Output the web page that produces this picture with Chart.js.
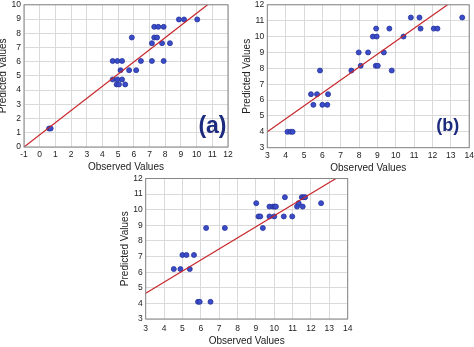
<!DOCTYPE html>
<html>
<head>
<meta charset="utf-8">
<script src="https://cdn.jsdelivr.net/npm/chart.js@4"></script>
<style>
html, body { margin: 0; padding: 0; background: #fff; }
#wrap { position: relative; width: 474px; height: 347px; overflow: hidden; }
canvas { position: absolute; }
</style>
</head>
<body>
<div id="wrap">
  <canvas id="chartA" width="239" height="175" style="left:-2px;top:0px;width:239px;height:175px"></canvas>
  <canvas id="chartB" width="234" height="175" style="left:240px;top:0px;width:234px;height:175px"></canvas>
  <canvas id="chartC" width="240" height="177" style="left:115px;top:170px;width:240px;height:177px"></canvas>
</div>
<script>
// panel (a)
const obsA  = [0.6, 0.7, 4.65, 4.95, 5.25, 6.45, 7.15, 7.9, 5.15, 5.7, 6.15, 4.65, 4.95, 5.25, 4.9, 5.05, 5.45,
               5.87, 7.3, 7.48, 7.15, 7.8, 8.3, 7.3, 7.56, 7.9, 8.87, 9.2, 10.04];
const predA = [1.3, 1.3, 6.05, 6.05, 6.05, 6.05, 6.05, 6.05, 5.4, 5.4, 5.4, 4.75, 4.75, 4.75, 4.4, 4.4, 4.4,
               7.7, 7.7, 7.7, 7.3, 7.3, 7.3, 8.45, 8.45, 8.45, 8.97, 8.97, 8.97];
const fitXA = [-1, 10.7];
const fitYA = [0, 10];

// panel (b)
const obsB  = [4.1, 4.27, 4.38, 5.38, 5.71, 6.31, 5.51, 6.0, 6.27, 5.87, 7.58, 9.78, 8.09, 8.91, 9.02,
               7.98, 8.49, 9.35, 8.75, 8.96, 10.42, 8.93, 9.65, 11.35, 12.07, 12.27, 10.82, 11.29, 13.62];
const predB = [4.0, 4.0, 4.0, 6.37, 6.37, 6.37, 5.7, 5.7, 5.7, 7.86, 7.86, 7.86, 8.16, 8.16, 8.16,
               9.0, 9.0, 9.0, 10.0, 10.0, 10.0, 10.5, 10.5, 10.5, 10.5, 10.5, 11.2, 11.2, 11.2];
const fitXB = [3, 12.82];
const fitYB = [4, 12];

// panel (c)
const obsC  = [4.53, 4.89, 5.4, 5.0, 5.22, 5.63, 5.85, 5.94, 6.53, 6.29, 7.31, 9.02, 9.14, 9.24, 9.38,
               9.74, 9.93, 10.02, 10.09, 9.74, 10.0, 10.58, 10.52, 10.98, 11.24, 11.33, 11.5, 11.6, 11.68, 11.55, 12.55];
const predC = [6.2, 6.2, 6.2, 7.1, 7.1, 7.1, 4.1, 4.1, 4.1, 8.83, 8.83, 10.42, 9.57, 9.57, 8.83,
               10.2, 10.2, 10.2, 10.2, 9.57, 9.57, 10.8, 9.57, 9.57, 10.2, 10.42, 10.8, 10.8, 10.8, 10.2, 10.42];
const fitXC = [3, 13.36];
const fitYC = [4.65, 12];

const FONT = '"Liberation Sans", Arial, sans-serif';

// frame round the plot area + the (a)/(b) tag
const panelTag = {
    id: 'panelTag',
    afterDraw(chart, args, opts) {
        const c = chart.ctx;
        const a = chart.chartArea;
        c.save();
        c.strokeStyle = '#858585';
        c.lineWidth = 1;
        c.strokeRect(a.left, a.top, a.right - a.left, a.bottom - a.top);
        if (opts.text) {
            c.font = 'bold ' + opts.size + 'px ' + FONT;
            c.fillStyle = '#1d2b7e';
            c.textAlign = 'right';
            c.textBaseline = 'middle';
            c.fillText(opts.text, a.right - opts.dx, a.bottom - opts.dy);
        }
        c.restore();
    }
};

function createScatterPanel(canvasId, obs, pred, fitX, fitY, xMin, xMax, yMin, yMax, box, tag) {
    const ctx = document.getElementById(canvasId).getContext('2d');
    const points = obs.map((x, i) => ({ x: x, y: pred[i] }));
    const fit = fitX.map((x, i) => ({ x: x, y: fitY[i] }));

    new Chart(ctx, {
        type: 'scatter',
        data: {
            datasets: [
                {
                    data: fit,
                    showLine: true,
                    borderColor: '#c8262b',
                    borderWidth: 1.2,
                    pointRadius: 0
                },
                {
                    data: points,
                    backgroundColor: '#3a4cc8',
                    borderColor: '#25329a',
                    borderWidth: 0.8,
                    pointRadius: 2.5
                }
            ]
        },
        options: {
            responsive: false,
            devicePixelRatio: 1,
            animation: false,
            layout: { padding: { top: box.top, right: box.right, left: 0, bottom: 0 } },
            plugins: {
                legend: { display: false },
                tooltip: { enabled: false },
                panelTag: tag
            },
            scales: {
                x: {
                    type: 'linear',
                    min: xMin,
                    max: xMax,
                    ticks: { stepSize: 1, color: '#222', padding: box.xTickPad, font: { family: FONT, size: 8.5 }, maxRotation: 0 },
                    grid: { color: '#dadada', drawTicks: false },
                    border: { display: false },
                    title: { display: true, text: 'Observed Values', color: '#222', font: { family: FONT, size: 10 }, padding: { top: 0, bottom: box.xTitlePad } },
                    afterFit: (s) => { s.height = box.xAxisH; s.paddingLeft = 0; s.paddingRight = 0; }
                },
                y: {
                    type: 'linear',
                    min: yMin,
                    max: yMax,
                    ticks: { stepSize: 1, color: '#222', padding: 3, font: { family: FONT, size: 8.5 } },
                    grid: { color: '#dadada', drawTicks: false },
                    border: { display: false },
                    title: { display: true, text: 'Predicted Values', color: '#222', font: { family: FONT, size: 10 }, padding: { top: box.yTitlePad, bottom: 0 } },
                    afterFit: (s) => { s.width = box.yAxisW; s.paddingTop = 0; s.paddingBottom = 0; }
                }
            }
        },
        plugins: [panelTag]
    });
}

createScatterPanel('chartA', obsA, predA, fitXA, fitYA, -1, 12, 0, 10,
    { top: 3, right: 9, yAxisW: 26, xAxisH: 28, yTitlePad: -0.5, xTitlePad: 1.5, xTickPad: 2.5 },
    { text: '(a)', size: 23, dx: 1.5, dy: 20 });

createScatterPanel('chartB', obsB, predB, fitXB, fitYB, 3, 14, 3, 12,
    { top: 3.3, right: 1.7, yAxisW: 27.3, xAxisH: 27.3, yTitlePad: 1, xTitlePad: 1, xTickPad: 2.5 },
    { text: '(b)', size: 18, dx: 10, dy: 22 });

createScatterPanel('chartC', obsC, predC, fitXC, fitYC, 3, 14, 3, 12,
    { top: 8.5, right: 7.3, yAxisW: 30.7, xAxisH: 28, yTitlePad: 4, xTitlePad: 0, xTickPad: 4.5 },
    { text: '', size: 0, dx: 0, dy: 0 });
</script>
</body>
</html>
